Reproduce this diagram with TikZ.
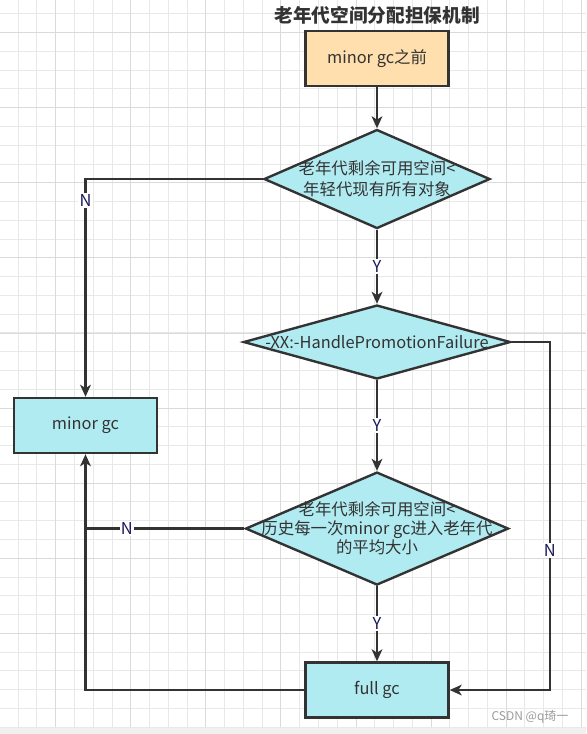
\documentclass[tikz,border=0pt]{standalone}
\usepackage{fontspec}
\setmainfont{Noto Sans CJK SC}
\usetikzlibrary{shapes.geometric,positioning,arrows.meta}
\definecolor{linegray}{HTML}{333333}
\definecolor{textgray}{HTML}{333333}
\definecolor{cyanfill}{HTML}{B1EBF2}
\definecolor{orangefill}{HTML}{FFDFAE}
\definecolor{navy}{HTML}{1A1A5C}
\definecolor{gridminor}{HTML}{E8E8E8}
\definecolor{gridmajor}{HTML}{DADADA}
\definecolor{stripgray}{HTML}{F0F0F0}
\definecolor{wmgray}{HTML}{9A9A9A}

\begin{document}
\begin{tikzpicture}[x=0.75pt,y=-0.75pt,on grid,
    >={Stealth[length=9pt,width=8pt,inset=2.5pt]},
    every node/.style={font=\fontsize{12.3}{15}\selectfont,text=textgray},
    box/.style={rectangle,draw=linegray,line width=1.8pt,fill=cyanfill,
      minimum width=107.25pt,minimum height=41.25pt},
    decision/.style={diamond,draw=linegray,line width=1.8pt,fill=cyanfill,inner sep=0pt},
    flow/.style={draw=linegray,line width=1.8pt},
    every edge/.append style={flow},
    yn/.style={fill=white,inner sep=1pt,text=navy}]
    \useasboundingbox (0,0) rectangle (586,734);
    % background grid
    \fill[stripgray] (0,727) rectangle (586,734);
    \begin{scope}
      \clip (0,0) rectangle (586,727);
      \foreach \k in {0,...,31} \draw[gridminor,line width=0.75pt] ({-0.6+18.77*\k},0) -- ++(0,727);
      \foreach \k in {-1,...,38} \draw[gridminor,line width=0.75pt] (0,{13.9+18.77*\k}) -- ++(586,0);
      \foreach \k in {0,...,8} \draw[gridmajor,line width=0.75pt] ({-19.4+75.08*\k},0) -- ++(0,727);
      \foreach \k in {0,...,9} \draw[gridmajor,line width=0.75pt] (0,{-42.4+75.08*\k}) -- ++(586,0);
    \end{scope}

    \node[font=\bfseries\fontsize{14}{16}\selectfont] (title) at (377,15) {老年代空间分配担保机制};
    \node[box,fill=orangefill] (start) at (377,58.5) {minor gc之前};
    \node[decision,minimum width=169.5pt,minimum height=74.25pt,below=90.4pt of start,
      label={[align=center,font=\fontsize{12.3}{15.5}\selectfont]center:老年代剩余可用空间<\\年轻代现有所有对象}] (d1) {};
    \node[decision,minimum width=200.25pt,minimum height=55.5pt,below=122.25pt of d1,
      label={[align=center]center:-XX:-HandlePromotionFailure}] (d2) {};
    \node[decision,minimum width=197.25pt,minimum height=84.75pt,below=139.9pt of d2,
      label={[align=center,font=\fontsize{12.3}{14.3}\selectfont]center:老年代剩余可用空间<\\历史每一次minor gc进入老年代\\的平均大小}] (d3) {};
    \node[box] (full) [below=121.1pt of d3] {full gc};
    \node[box] (minor) at (85.5,425.5) {minor gc};

    \path[->,flow]
    (start) edge (d1)
    (d1) edge node[yn] {Y} (d2)
    (d2) edge node[yn] {Y} (d3)
    (d3) edge node[yn] {Y} (full);
    \draw[->,flow] (d1.west) -| node[yn,pos=0.55] {N} (minor);
    \draw[->,flow] (d2.east) -- ++(38,0) |- node[yn,pos=0.3] {N} (full);
    \draw[flow] (d3.west) -- node[yn,pos=0.74] {N} (d3.west -| minor);
    \draw[->,flow] (full) -| (minor);

    \node[text=wmgray,font=\fontsize{9}{11}\selectfont] (mark) at (530,717) {CSDN @q琦一};
  \end{tikzpicture}
\end{document}
